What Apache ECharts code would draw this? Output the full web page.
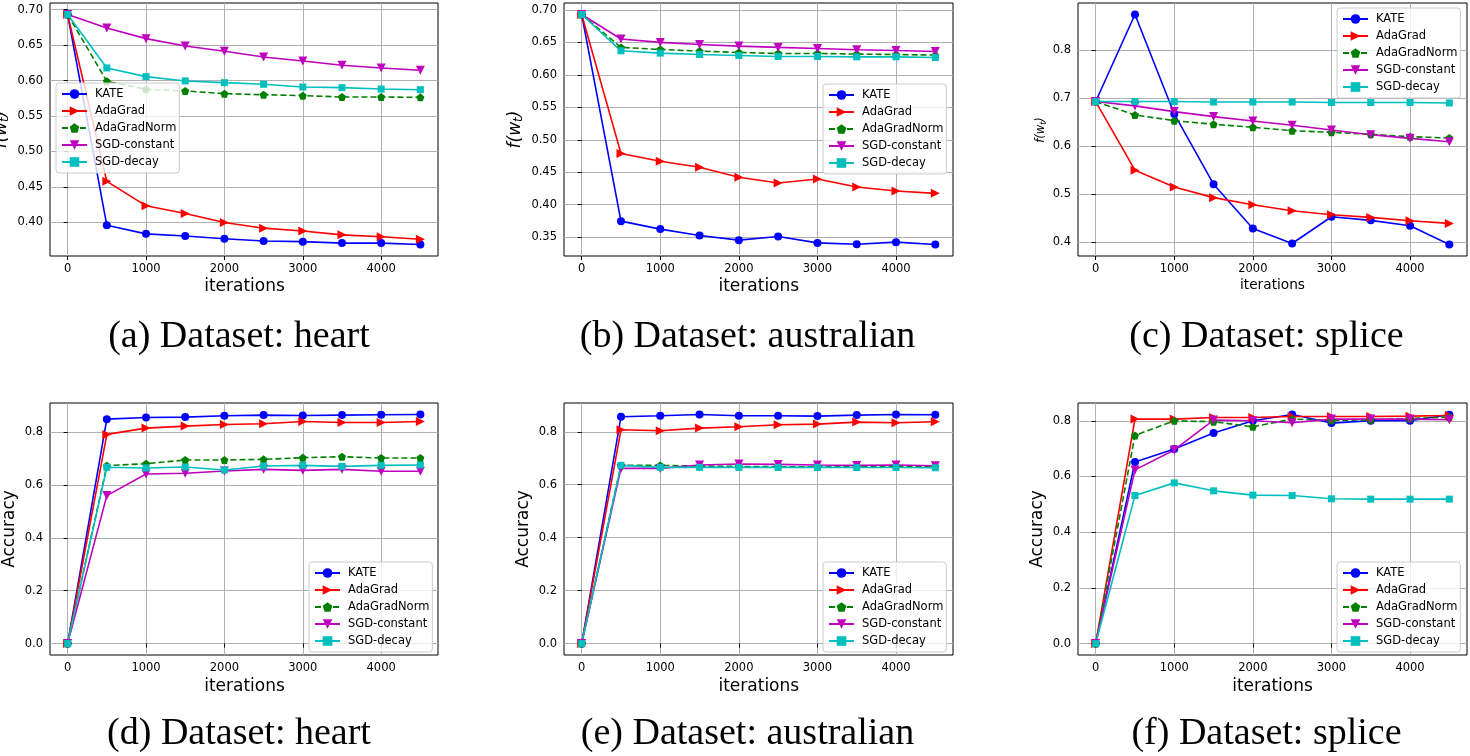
<!DOCTYPE html>
<html>
<head>
<meta charset="utf-8">
<script src="https://cdn.jsdelivr.net/npm/echarts@6/dist/echarts.min.js"></script>
<style>html,body{margin:0;padding:0;background:#fff}#c{width:1470px;height:756px}</style>
</head>
<body>
<div id="c"></div>
<script>
const iterations = [0,500,1000,1500,2000,2500,3000,3500,4000,4500];
const methods = ['KATE','AdaGrad','AdaGradNorm','SGD-constant','SGD-decay'];
const xTicks = [0,1000,2000,3000,4000];

// loss f(w_t): rows follow methods order
const lossHeart = [
  [0.693,0.396,0.384,0.381,0.377,0.374,0.373,0.371,0.371,0.369],
  [0.693,0.458,0.4235,0.4127,0.400,0.392,0.388,0.3826,0.380,0.3765],
  [0.693,0.599,0.5876,0.5853,0.5815,0.580,0.5787,0.5768,0.5768,0.5763],
  [0.693,0.674,0.659,0.6487,0.6412,0.6332,0.6276,0.6215,0.6177,0.6144],
  [0.693,0.6177,0.6055,0.5994,0.597,0.5947,0.5909,0.590,0.588,0.5871]
];
const lossAustralian = [
  [0.693,0.3747,0.3624,0.3526,0.3454,0.351,0.3412,0.3392,0.3423,0.3387],
  [0.693,0.4789,0.467,0.4577,0.4423,0.4335,0.4397,0.4273,0.4211,0.4175],
  [0.693,0.6423,0.6392,0.6366,0.6345,0.633,0.633,0.632,0.6314,0.6304],
  [0.693,0.6552,0.650,0.6469,0.6443,0.6423,0.6407,0.6387,0.6376,0.6361],
  [0.693,0.6371,0.6335,0.6314,0.6299,0.6283,0.6283,0.6278,0.6278,0.6268]
];
const lossSplice = [
  [0.693,0.8748,0.6671,0.5203,0.428,0.3965,0.4524,0.4448,0.4336,0.3944],
  [0.693,0.5497,0.5147,0.4923,0.4776,0.465,0.4566,0.451,0.444,0.4385],
  [0.693,0.665,0.6531,0.6455,0.6392,0.6322,0.6287,0.6245,0.6196,0.6168],
  [0.693,0.6839,0.672,0.6615,0.6524,0.6434,0.6336,0.6238,0.6161,0.6091],
  [0.693,0.693,0.693,0.692,0.692,0.692,0.691,0.691,0.691,0.690]
];
// accuracy
const accHeart = [
  [0,0.849,0.855,0.8566,0.8617,0.8642,0.863,0.8642,0.8654,0.8667],
  [0,0.7912,0.8151,0.8226,0.8289,0.8314,0.8403,0.8365,0.8365,0.8403],
  [0,0.673,0.6805,0.6943,0.6943,0.6969,0.7031,0.7069,0.7019,0.7019],
  [0,0.5597,0.6415,0.644,0.6528,0.6591,0.6553,0.6591,0.6516,0.6516],
  [0,0.6667,0.6642,0.668,0.6566,0.6717,0.6742,0.6704,0.6742,0.6755]
];
const accAustralian = [
  [0,0.8566,0.8604,0.8654,0.8604,0.8604,0.8591,0.863,0.8654,0.8642],
  [0,0.8075,0.8038,0.8138,0.8189,0.8264,0.8289,0.8365,0.834,0.8377],
  [0,0.673,0.673,0.6704,0.6692,0.668,0.668,0.668,0.668,0.668],
  [0,0.6616,0.6616,0.6742,0.678,0.6767,0.6742,0.673,0.6742,0.6717],
  [0,0.673,0.6654,0.6654,0.6654,0.6654,0.6654,0.6648,0.6648,0.6642]
];
const accSplice = [
  [0,0.6522,0.6987,0.7559,0.80,0.8227,0.7917,0.80,0.80,0.8215],
  [0,0.806,0.806,0.8119,0.8119,0.8155,0.8155,0.8155,0.8167,0.8191],
  [0,0.7475,0.80,0.7964,0.7785,0.806,0.8012,0.8036,0.8083,0.8131],
  [0,0.6236,0.6951,0.8024,0.80,0.7928,0.806,0.806,0.806,0.8036],
  [0,0.5317,0.577,0.5484,0.5329,0.5317,0.5198,0.5186,0.5186,0.5186]
];

const yTicksHeart = [0.40,0.45,0.50,0.55,0.60,0.65,0.70];
const yTicksAustralian = [0.35,0.40,0.45,0.50,0.55,0.60,0.65,0.70];
const yTicksSplice = [0.4,0.5,0.6,0.7,0.8];
const yTicksAcc = [0.0,0.2,0.4,0.6,0.8];

const captions = ['(a) Dataset: heart','(b) Dataset: australian','(c) Dataset: splice',
                  '(d) Dataset: heart','(e) Dataset: australian','(f) Dataset: splice'];

const colors = ['#0000ff','#ff0000','#008000','#bf00bf','#00bfbf'];
const symbols = ['circle','path://M0,0 L10,5 L0,10 Z',
  'path://M50,0 L97.55,34.55 L79.39,90.45 L20.61,90.45 L2.45,34.55 Z',
  'path://M0,0 L10,0 L5,10 Z','rect'];
const symSizes = [8,9,8,9,7];
const lineTypes = ['solid','solid',[6,3],'solid','solid'];

const panels = [
  {data:lossHeart, ticks:yTicksHeart, dec:2, grid:[50,3,388,253], leg:[56,83], ylab:'f', ylx:1.5, yly:129.5, yfs:17, xlx:244.5, xly:287, xfs:17, cap:[239,337]},
  {data:lossAustralian, ticks:yTicksAustralian, dec:2, grid:[564,3,389,253], leg:[823,84], ylab:'f', ylx:515.5, yly:129.5, yfs:17, xlx:758.8, xly:287, xfs:17, cap:[747.5,337]},
  {data:lossSplice, ticks:yTicksSplice, dec:1, grid:[1078,3,389,253], leg:[1337,8], ylab:'f', ylx:1041.5, yly:130, yfs:11.5, xlx:1272.5, xly:285, xfs:13.7, cap:[1266.5,337]},
  {data:accHeart, ticks:yTicksAcc, dec:1, grid:[50,403,388,252], leg:[309,562], ylab:'Accuracy', ylx:10, yly:529, yfs:17, xlx:244.5, xly:687, xfs:17, cap:[239,734]},
  {data:accAustralian, ticks:yTicksAcc, dec:1, grid:[564,403,389,252], leg:[823,562], ylab:'Accuracy', ylx:524, yly:529, yfs:17, xlx:758.8, xly:687, xfs:17, cap:[747.5,734]},
  {data:accSplice, ticks:yTicksAcc, dec:1, grid:[1078,403,389,252], leg:[1337,562], ylab:'Accuracy', ylx:1038, yly:529, yfs:17, xlx:1272.5, xly:687, xfs:17, cap:[1266.5,734]}
];

const tickFont = {fontFamily:'DejaVu Sans', fontSize:11.5, color:'#000'};

function yRange(rows){
  let lo = Infinity, hi = -Infinity;
  rows.forEach(r => r.forEach(v => {lo = Math.min(lo,v); hi = Math.max(hi,v);}));
  const pad = 0.05*(hi-lo);
  return [lo-pad, hi+pad];
}

const option = {
  animation:false,
  backgroundColor:'#fff',
  grid: panels.map(p => ({left:p.grid[0], top:p.grid[1], width:p.grid[2], height:p.grid[3],
    show:true, borderColor:'#000', borderWidth:1, backgroundColor:'transparent', containLabel:false})),
  xAxis: panels.map((p,i) => ({
    type:'value', gridIndex:i, min:-225, max:4725,
    axisLine:{show:false},
    axisTick:{show:true, length:4, lineStyle:{color:'#000', width:1}, customValues:xTicks},
    axisLabel:Object.assign({margin:7, customValues:xTicks, formatter:v=>String(v)}, tickFont),
    splitLine:{show:true, lineStyle:{color:'#b0b0b0', width:1}}
  })),
  yAxis: panels.map((p,i) => {
    const r = yRange(p.data);
    return {
      type:'value', gridIndex:i, min:r[0], max:r[1],
      axisLine:{show:false},
      axisTick:{show:true, length:4, lineStyle:{color:'#000', width:1}, customValues:p.ticks},
      axisLabel:Object.assign({margin:7, customValues:p.ticks, formatter:v=>v.toFixed(p.dec)}, tickFont),
      splitLine:{show:true, lineStyle:{color:'#b0b0b0', width:1}}
    };
  }),
  legend: panels.map(p => ({
    left:p.leg[0], top:p.leg[1], orient:'vertical', itemWidth:25, itemHeight:12, itemGap:5,
    padding:[5,3,5,5], backgroundColor:'rgba(255,255,255,0.8)', borderColor:'#cccccc',
    borderWidth:1, borderRadius:3, selectedMode:false, data:methods,
    textStyle:{fontFamily:'DejaVu Sans', fontSize:11.5, color:'#000', padding:[0,0,0,3]}
  })),
  series: [],
  graphic: []
};

panels.forEach((p,i) => {
  methods.forEach((m,j) => {
    option.series.push({
      type:'line', name:m, xAxisIndex:i, yAxisIndex:i,
      data: iterations.map((x,k) => [x, p.data[j][k]]),
      symbol:symbols[j], symbolSize:symSizes[j], showAllSymbol:true,
      itemStyle:{color:colors[j]},
      lineStyle:{color:colors[j], width:1.6, type:lineTypes[j]},
      emphasis:{disabled:true}, silent:true
    });
  });
  if (p.ylab === 'f') {
    option.graphic.push({type:'text', x:p.ylx, y:p.yly, rotation:Math.PI/2,
      style:{text:'{i|f(w}{s|t}{i|)}', align:'center', verticalAlign:'middle', fill:'#000',
        rich:{i:{fontFamily:'DejaVu Sans', fontStyle:'italic', fontSize:p.yfs, fill:'#000'},
              s:{fontFamily:'DejaVu Sans', fontStyle:'italic', fontSize:p.yfs*0.7, fill:'#000', padding:[p.yfs*0.35,0,0,0], verticalAlign:'bottom'}}}});
  } else {
    option.graphic.push({type:'text', x:p.ylx, y:p.yly, rotation:Math.PI/2,
      style:{text:p.ylab, align:'center', verticalAlign:'middle', fill:'#000',
        font:p.yfs+'px "DejaVu Sans"'}});
  }
  option.graphic.push({type:'text', x:p.xlx, y:p.xly,
    style:{text:'iterations', align:'center', verticalAlign:'middle', fill:'#000', font:p.xfs+'px "DejaVu Sans"'}});
  option.graphic.push({type:'text', x:p.cap[0], y:p.cap[1],
    style:{text:captions[i], align:'center', verticalAlign:'middle', fill:'#000', font:'38px "Liberation Serif"'}});
});

const chart = echarts.init(document.getElementById('c'), null, {renderer:'canvas'});
chart.setOption(option);
</script>
</body>
</html>
